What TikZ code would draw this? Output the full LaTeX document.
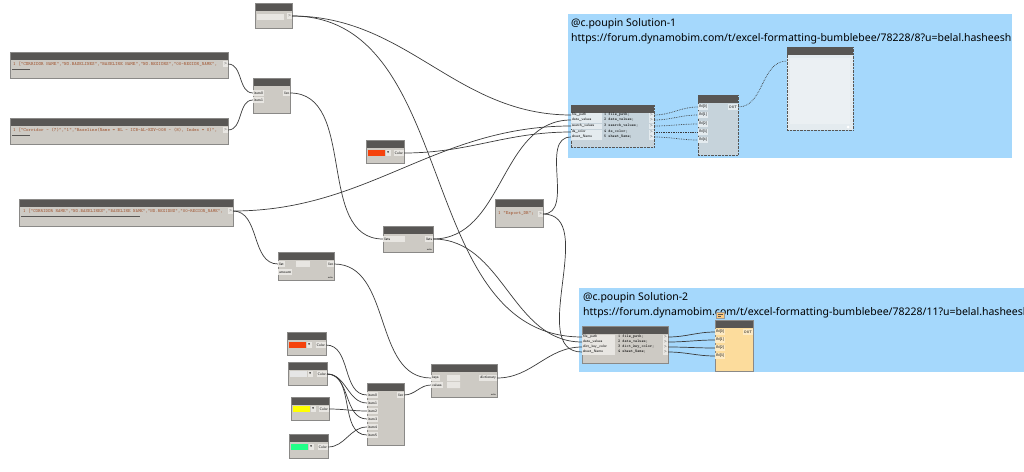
\documentclass[tikz,border=0pt]{standalone}
\usepackage{amssymb}
\usepackage{fontspec}
\newfontfamily\grpfont{Noto Sans}
\newcommand\prt{\fontsize{3.6}{4}\selectfont\sffamily}
\newcommand\cde{\fontsize{4.8}{5}\selectfont\ttfamily}
\definecolor{hdr}{HTML}{585654}
\definecolor{nbody}{HTML}{CDCAC4}
\definecolor{nport}{HTML}{E8E6E2}
\definecolor{grp}{HTML}{A5D8FC}
\definecolor{frz}{HTML}{C6D3DB}
\definecolor{frzport}{HTML}{E4EBEF}
\definecolor{pyfill}{HTML}{FCDC9C}
\definecolor{wirec}{HTML}{3A3A3A}
\definecolor{strtxt}{HTML}{A0522D}
\definecolor{swred}{HTML}{F5420C}
\definecolor{swwhite}{HTML}{E6E6E6}
\definecolor{swyellow}{HTML}{FFFF00}
\definecolor{swgreen}{HTML}{22FF88}
\tikzset{
  dyn/.style={draw=hdr!70, fill=nbody, anchor=north west, inner sep=0pt, outer sep=0pt,
    path picture={\fill[hdr] (path picture bounding box.north west) rectangle ([yshift=-8pt]path picture bounding box.north east);}},
  frozen/.style={dyn, fill=frz, draw=hdr, densely dotted},
  inport/.style={fill=nport, anchor=west, inner xsep=1pt, inner ysep=0pt, minimum height=6pt, outer sep=0pt, font=\prt},
  outport/.style={inport, anchor=east},
  wideport/.style={inport, text width=#1, align=left},
  code/.style={anchor=west, inner sep=0pt, font=\cde},
  swatch/.style={anchor=west, minimum width=17pt, minimum height=6pt, inner sep=0pt},
  dropbox/.style={anchor=west, fill=nport, minimum width=5pt, minimum height=6pt, inner sep=0pt, font=\fontsize{3}{3}\selectfont},
  autolbl/.style={anchor=south east, inner sep=1pt, font=\fontsize{2.5}{3}\selectfont\sffamily},
  wire/.style={draw=wirec, line width=0.7pt},
  dwire/.style={wire, densely dotted},
}
\begin{document}
\begin{tikzpicture}[x=1pt,y=-1pt]
\useasboundingbox[fill=white] (0,0) rectangle (1024,471);

\fill[grp] (568,14) rectangle (1012,158);
\node[anchor=base west, font=\grpfont\fontsize{10.5}{12}\selectfont, inner sep=0pt] (g1a) at (571,26) {@c.poupin Solution-1};
\node[anchor=base west, font=\grpfont\fontsize{10.5}{12}\selectfont, inner sep=0pt] (g1b) at (571,41) {https://forum.dynamobim.com/t/excel-formatting-bumblebee/78228/8?u=belal.hasheesh};
\fill[grp] (579,288) rectangle (1030,372);
\node[anchor=base west, font=\grpfont\fontsize{10.5}{12}\selectfont, inner sep=0pt] (g2a) at (583,300) {@c.poupin Solution-2};
\node[anchor=base west, font=\grpfont\fontsize{10.5}{12}\selectfont, inner sep=0pt] (g2b) at (583,315) {https://forum.dynamobim.com/t/excel-formatting-bumblebee/78228/11?u=belal.hasheesh};

\node[dyn, minimum width=37pt, minimum height=25pt] (top) at (255,3) {};
\fill[nport] (257,14) rectangle (284,20);
\node[outport] (topout) at (292,16) {\textgreater};

\node[dyn, minimum width=218pt, minimum height=26pt] (cbA) at (10,52) {};
\node[code, text=strtxt] (cbAt) at (13,64) {1 ["CORRIDOR NAME","NO.BASELINES","BASELINE NAME","NO.REGIONS","00-REGION\_NAME",};
\draw[hdr, line width=1pt] (12,69) -- (30,69);
\node[outport] (Aout) at (228,64) {\textgreater};

\node[dyn, minimum width=218pt, minimum height=26pt] (cbB) at (10,118) {};
\node[code, text=strtxt] (cbBt) at (13,130) {1 ["Corridor - (7)","1","Baseline(Name = BL - ICB-AL-EXV-008 - (8), Index = 0)",};
\draw[hdr, line width=1pt] (12,135) -- (30,135);
\node[outport] (Bout) at (228,130) {\textgreater};

\node[dyn, minimum width=37pt, minimum height=35pt] (lc1) at (253,78) {};
\node[inport] (lc1a) at (253,93) {item0};
\node[inport] (lc1b) at (253,100) {item1};
\node[outport] (lc1out) at (290,93) {list};

\node[dyn, minimum width=214pt, minimum height=27pt] (cbD) at (19,199) {};
\node[code, text=strtxt, font=\fontsize{4.7}{5}\selectfont\ttfamily] (cbDt) at (23,211) {1 ["CORRIDOR NAME","NO.BASELINES","BASELINE NAME","NO.REGIONS","00-REGION\_NAME",};
\draw[hdr, line width=1pt] (21,216) -- (140,216);
\node[outport] (Dout) at (233,211) {\textgreater};

\node[dyn, minimum width=56pt, minimum height=28pt] (drop) at (278,252) {};
\node[inport] (dropl) at (278,264) {list};
\fill[nport] (296,261) rectangle (310,267);
\node[inport] (dropa) at (278,272) {amount};
\node[outport] (dropout) at (334,264) {list};
\node[autolbl] at (drop.south east) {auto};

\node[dyn, minimum width=38pt, minimum height=23pt] (colK) at (366,140) {};
\node[swatch, fill=swred] (swK) at (368,153) {};
\node[dropbox] at (385.5,153) {$\blacktriangledown$};
\node[outport] (colKout) at (404,153) {Color};

\node[dyn, minimum width=50pt, minimum height=26pt] (trp) at (383,226) {};
\node[wideport=20pt] (trpin) at (383,239) {lists};
\node[outport] (trpout) at (433,239) {lists};
\node[autolbl] at (trp.south east) {auto};

\node[dyn, minimum width=48pt, minimum height=28pt] (exp) at (495,199) {};
\node[code, text=strtxt] (expt) at (498,214) {1 "Export\_DB";};
\node[outport] (expout) at (543,214) {\textgreater};

\node[dyn, minimum width=39pt, minimum height=23pt] (colR) at (287,332) {};
\node[swatch, fill=swred] (swR) at (289,345) {};
\node[dropbox] at (306.5,345) {$\blacktriangledown$};
\node[outport] (colRout) at (326,345) {Color};
\node[dyn, minimum width=39pt, minimum height=23pt] (colW) at (288,362) {};
\node[swatch, fill=swwhite] (swW) at (290,374) {};
\node[dropbox] at (307.5,374) {$\blacktriangledown$};
\node[outport] (colWout) at (327,374) {Color};
\node[dyn, minimum width=38pt, minimum height=23pt] (colY) at (291,397) {};
\node[swatch, fill=swyellow] (swY) at (293,409) {};
\node[dropbox] at (310.5,409) {$\blacktriangledown$};
\node[outport] (colYout) at (329,409) {Color};
\node[dyn, minimum width=39pt, minimum height=24pt] (colG) at (289,434) {};
\node[swatch, fill=swgreen] (swG) at (291,447) {};
\node[dropbox] at (308.5,447) {$\blacktriangledown$};
\node[outport] (colGout) at (328,447) {Color};

\node[dyn, minimum width=37pt, minimum height=62pt] (lc2) at (367,383) {};
\foreach \i/\yy in {0/395,1/403,2/411,3/419,4/427,5/435}
  \node[inport] (lc2i\i) at (367,\yy) {item\i};
\node[outport] (lc2out) at (404,395) {list};

\node[dyn, minimum width=66pt, minimum height=33pt] (dict) at (431,364) {};
\node[inport] (dictk) at (431,378) {keys};
\node[inport] (dictv) at (431,385) {values};
\fill[nport] (447,375) rectangle (460,381) (447,382) rectangle (460,388);
\node[outport] (dictout) at (497,378) {dictionary};
\node[autolbl] at (dict.south east) {auto};

\node[frozen, minimum width=83pt, minimum height=42pt] (sol1) at (571,105) {};
\foreach \n/\lbl/\yy in {a/file\_path/115,b/data\_values/120,c/search\_values/126,d/ds\_color/132,e/sheet\_Name/137}
  \node[wideport=29pt, fill=frzport, minimum height=5pt] (sol1\n) at (571,\yy) {\lbl};
\foreach \n/\lbl/\yy in {a/1 file\_path;/115,b/2 data\_values;/120,c/3 search\_values;/126,d/4 ds\_color;/132,e/5 sheet\_Name;/137}
  \node[code, font=\fontsize{4}{5}\selectfont\ttfamily] at (604,\yy) {\lbl};
\foreach \n/\yy in {a/115,b/120,c/126,d/132,e/137}
  \node[outport, fill=frzport, minimum height=5pt, font=\fontsize{3}{3}\selectfont] (sol1o\n) at (654,\yy) {\textgreater};

\node[frozen, minimum width=40pt, minimum height=60pt] (py1) at (698,95) {};
\foreach \i/\yy in {0/107,1/115,2/124,3/132,4/140}
  \node[inport, fill=frzport] (py1i\i) at (698,\yy) {IN[\i]};
\node[outport, fill=frzport] (py1out) at (738,107) {OUT};

\node[frozen, minimum width=66pt, minimum height=83pt, fill=frzport] (watch) at (787,47) {};
\fill[white!25!frzport] (790,58) rectangle (850,124);
\fill[white] (848,127) circle (1.5);
\coordinate (watchin) at (787,61);

\node[dyn, minimum width=86pt, minimum height=37pt] (sol2) at (582,326) {};
\foreach \n/\lbl/\yy in {a/file\_path/337,b/data\_values/342,c/dict\_key\_color/347,d/sheet\_Name/352}
  \node[wideport=31pt, minimum height=5pt] (sol2\n) at (582,\yy) {\lbl};
\foreach \n/\lbl/\yy in {a/1 file\_path;/337,b/2 data\_values;/342,c/3 dict\_key\_color;/347,d/4 sheet\_Name;/352}
  \node[code, font=\fontsize{4}{5}\selectfont\ttfamily] at (618,\yy) {\lbl};
\foreach \n/\yy in {a/337,b/342,c/347,d/352}
  \node[outport, minimum height=5pt, font=\fontsize{3}{3}\selectfont] (sol2o\n) at (668,\yy) {\textgreater};

\node[dyn, minimum width=38pt, minimum height=51pt, fill=pyfill] (py2) at (715,320) {};
\foreach \i/\yy in {0/332,1/340,2/348,3/356}
  \node[inport, fill=pyfill!60!white] (py2i\i) at (715,\yy) {IN[\i]};
\node[outport, fill=pyfill!60!white] (py2out) at (753,332) {OUT};
\fill[pyfill!80!orange, draw=hdr!60, line width=0.3pt] (716,312) rectangle (724,318);
\draw[hdr, line width=0.3pt] (717.5,314) -- (722.5,314) (717.5,316) -- (721,316);

\draw[wire] (topout.east) to[out=0,in=180] (sol1a.west);
\draw[wire] (topout.east) to[out=0,in=180] (sol2a.west);
\draw[wire] (Aout.east) to[out=0,in=180] (lc1a.west);
\draw[wire] (Bout.east) to[out=0,in=180] (lc1b.west);
\draw[wire] (lc1out.east) to[out=0,in=180] (trpin.west);
\draw[wire] (Dout.east) to[out=0,in=180] (sol1c.west);
\draw[wire] (Dout.east) to[out=0,in=180] (dropl.west);
\draw[wire] (trpout.east) to[out=0,in=180] (sol1b.west);
\draw[wire] (trpout.east) to[out=0,in=180] (sol2b.west);
\draw[wire] (colKout.east) to[out=0,in=180] (sol1d.west);
\draw[wire] (expout.east) to[out=0,in=180] (sol1e.west);
\draw[wire] (expout.east) to[out=0,in=180] (sol2d.west);
\draw[wire] (dropout.east) to[out=0,in=180] (dictk.west);
\draw[wire] (lc2out.east) to[out=0,in=180] (dictv.west);
\draw[wire] (dictout.east) to[out=0,in=180] (sol2c.west);
\draw[wire] (colRout.east) to[out=0,in=180] (lc2i0.west);
\draw[wire] (colWout.east) to[out=0,in=180] (lc2i1.west);
\draw[wire] (colWout.east) to[out=0,in=180] (lc2i3.west);
\draw[wire] (colWout.east) to[out=0,in=180] (lc2i5.west);
\draw[wire] (colYout.east) to[out=0,in=180] (lc2i2.west);
\draw[wire] (colGout.east) to[out=0,in=180] (lc2i4.west);
\foreach \n/\i in {a/0,b/1,c/2,d/3,e/4}
  \draw[dwire] (sol1o\n.east) to[out=0,in=180] (py1i\i.west);
\draw[dwire] (py1out.east) to[out=0,in=180] (watchin);
\foreach \n/\i in {a/0,b/1,c/2,d/3}
  \draw[wire] (sol2o\n.east) to[out=0,in=180] (py2i\i.west);
\end{tikzpicture}
\end{document}
